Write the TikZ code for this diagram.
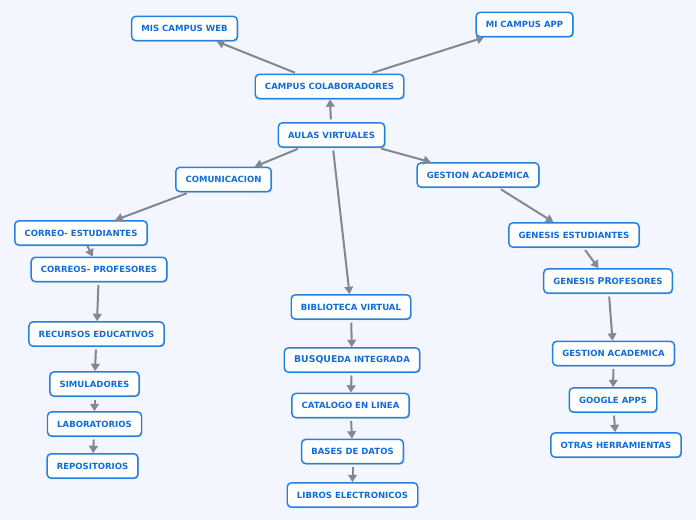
\documentclass[tikz,border=0pt]{standalone}
\usepackage{fontspec}
\setmainfont{DejaVu Sans}
\usetikzlibrary{arrows.meta,shadows}
\definecolor{bgcol}{RGB}{243,246,254}
\definecolor{boxline}{RGB}{36,128,226}
\definecolor{boxtext}{RGB}{18,108,214}
\definecolor{linkcol}{RGB}{132,134,146}
\tikzset{every picture/.style={line width=0.75pt}}
\tikzset{
  topic/.style={draw=boxline, fill=white, line width=1.1pt, rounded corners=3pt,
    font=\fontsize{6.4}{7.5}\selectfont\bfseries, text=boxtext,
    inner xsep=7.3pt, inner ysep=0pt, minimum height=18.2pt,
    drop shadow={shadow xshift=0.7pt, shadow yshift=-0.8pt, fill=black, opacity=0.22}},
  link/.style={draw=linkcol, line width=1.5pt, shorten <=2pt,
    -{Triangle[length=5.5pt,width=6.5pt]}}
}
\newcommand{\upsz}[1]{{\fontsize{7}{7.5}\selectfont #1}}

\begin{document}
\begin{tikzpicture}[x=0.75pt,y=0.75pt,yscale=-1,xscale=1]
		%set diagram size: 696 x 520
		\fill[bgcol] (0,0) rectangle (696,520);
		\useasboundingbox (0,0) rectangle (696,520);
		% Top
		\node [topic] (av) at (331.5,135) {AULAS VIRTUALES};
		\node [topic] (cc) at (329.5,86.5) {CAMPUS COLABORADORES};
		\node [topic] (web) at (184.5,28.5) {MIS CAMPUS WEB};
		\node [topic] (app) at (524.5,24.5) {MI CAMPUS APP};
		% Left branch
		\node [topic] (com) at (223.5,179.5) {COMUNICACION};
		\node [topic] (cest) at (81,233) {CORREO- ESTUDIANTES};
		\node [topic] (cprof) at (99,269.5) {CORREOS- PROFESORES};
		\node [topic] (rec) at (96.5,334) {RECURSOS EDUCATIVOS};
		\node [topic] (sim) at (94.5,384) {SIMULADORES};
		\node [topic] (lab) at (94.5,424) {LABORATORIOS};
		\node [topic] (rep) at (92.5,466) {REPOSITORIOS};
		% Middle branch
		\node [topic] (bib) at (351,307) {BIBLIOTECA VIRTUAL};
		\node [topic] (bus) at (352,360) {\upsz{BUSQUE}DA INTEGRADA};
		\node [topic] (cat) at (350.5,405.5) {CATALOGO EN LINEA};
		\node [topic] (bd) at (352.5,451.5) {BASES DE DATOS};
		\node [topic] (lib) at (352.5,495) {LIBROS ELECTRONICOS};
		% Right branch
		\node [topic] (gac) at (478,175) {GESTION ACADEMICA};
		\node [topic] (gest) at (574,235) {GENESIS ESTUDIANTES};
		\node [topic] (gprof) at (608,281) {GENESIS \upsz{PR}OFESORES};
		\node [topic] (gac2) at (613.5,353.5) {GESTION ACADEMICA};
		\node [topic] (goo) at (613,400) {GOOGLE APPS};
		\node [topic] (otr) at (616,445) {OTRAS HERRAMIENTAS};
		% Links
		\draw [link] (cc) -- (web);
		\draw [link] (cc) -- (app);
		\draw [link] (av) -- (cc);
		\draw [link] (av) -- (com);
		\draw [link] (av) -- (gac);
		\draw [link] (av) -- (bib);
		\draw [link] (com) -- (cest);
		\draw [link, shorten <=0pt] (cest) -- (cprof);
		\draw [link] (cprof) -- (rec);
		\draw [link] (rec) -- (sim);
		\draw [link] (sim) -- (lab);
		\draw [link] (lab) -- (rep);
		\draw [link] (bib) -- (bus);
		\draw [link] (bus) -- (cat);
		\draw [link] (cat) -- (bd);
		\draw [link] (bd) -- (lib);
		\draw [link] (gac) -- (gest);
		\draw [link] (gest) -- (gprof);
		\draw [link] (gprof) -- (gac2);
		\draw [link] (gac2) -- (goo);
		\draw [link] (goo) -- (otr);

	\end{tikzpicture}
\end{document}
